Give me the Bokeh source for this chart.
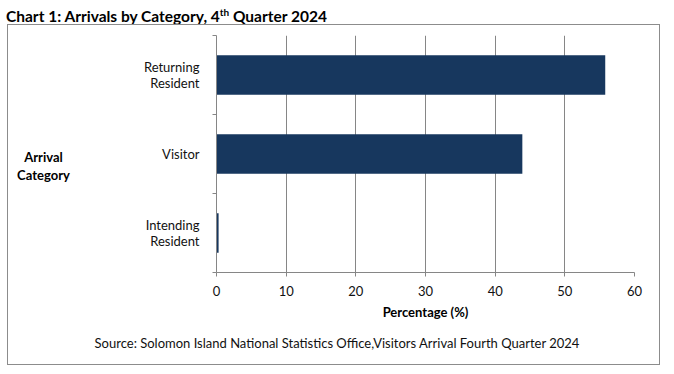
from bokeh.plotting import figure
from bokeh.models import Range1d, LinearAxis, FixedTicker, Div
from bokeh.layouts import column, row
from bokeh.embed import file_html
from bokeh.resources import INLINE

# ---- data ----
categories = ["Intending\nResident", "Visitor", "Returning\nResident"]  # bottom -> top
percentages = [0.3, 43.9, 55.8]
x_ticks = [0, 10, 20, 30, 40, 50, 60]
title_text = 'Chart 1: Arrivals by Category, 4<sup style="font-size:10px">th</sup> Quarter 2024'
x_label = "Percentage (%)"
y_label = "Arrival<br>Category"
source_text = "Source: Solomon Island National Statistics Office,Visitors Arrival Fourth Quarter 2024"

FONT = "Lato"
BAR = "#17375E"
GRID = "#868686"
TXT = "#111111"
FS = "13px"

n = len(categories)
centers = [i + 0.5 for i in range(n)]
bounds = list(range(n + 1))

title = Div(
    text=f'<div style="font-family:{FONT}; font-size:15.5px; font-weight:bold; color:#000; '
         f'line-height:18px; padding-top:3px; padding-left:6px; white-space:nowrap;">'
         + title_text + '</div>',
    width=660, height=25, margin=(0, 0, 0, 0),
)

ylab = Div(
    text=f'<div style="font-family:{FONT}; font-size:{FS}; font-weight:bold; color:#000; '
         f'line-height:18px; padding-top:123px; text-align:center; width:71px;">'
         + y_label + '</div>',
    width=71, height=300, margin=(0, 0, 0, 0),
)

p = figure(
    width=580, height=300,
    y_range=Range1d(0, n),
    x_range=Range1d(0, 60),
    y_axis_location=None,
    toolbar_location=None, output_backend="svg",
    min_border_left=137, min_border_right=25,
    min_border_top=10, min_border_bottom=53,
    background_fill_color="white", border_fill_color="white",
    margin=(0, 0, 0, 0),
)
p.outline_line_color = None

p.hbar(y=centers, right=percentages, left=0, height=0.5,
       fill_color=BAR, line_color=None)

# y axis: labels at category centres, short ticks at category boundaries
ya = LinearAxis(ticker=FixedTicker(ticks=centers, minor_ticks=bounds),
                major_label_overrides={c: lab for c, lab in zip(centers, categories)})
ya.axis_line_color = GRID
ya.major_tick_line_color = None
ya.major_tick_out = 0
ya.major_tick_in = 0
ya.minor_tick_line_color = GRID
ya.minor_tick_out = 4
ya.minor_tick_in = 0
ya.major_label_standoff = 13
ya.major_label_text_font = FONT
ya.major_label_text_font_size = FS
ya.major_label_text_color = TXT
ya.major_label_text_line_height = 1.0
p.add_layout(ya, "left")

# x axis
xa = p.xaxis[0]
xa.ticker = FixedTicker(ticks=x_ticks)
xa.axis_line_color = GRID
xa.major_tick_line_color = GRID
xa.major_tick_out = 4
xa.major_tick_in = 0
xa.minor_tick_line_color = None
xa.major_label_text_font = FONT
xa.major_label_text_font_size = FS
xa.major_label_text_color = TXT
xa.major_label_standoff = 9
xa.axis_label = x_label
xa.axis_label_text_font = FONT
xa.axis_label_text_font_size = FS
xa.axis_label_text_font_style = "bold"
xa.axis_label_text_color = "#000000"
xa.axis_label_standoff = 5

p.xgrid.grid_line_color = GRID
p.xgrid.grid_line_width = 1
p.ygrid.grid_line_color = None

source = Div(
    text=f'<div style="font-family:{FONT}; font-size:{FS}; color:{TXT}; line-height:16px; '
         f'padding-top:10px; padding-left:7px; text-align:center; width:651px; white-space:nowrap;">'
         + source_text + '</div>',
    width=651, height=39, margin=(0, 0, 0, 0),
)

box = column(row(ylab, p, spacing=0), source, spacing=0, margin=(0, 0, 0, 8),
             styles={"outline": "1px solid #8c8c8c", "outline-offset": "0px"})

layout = column(title, box, spacing=0)
open("out.html", "w").write(file_html(layout, INLINE))
